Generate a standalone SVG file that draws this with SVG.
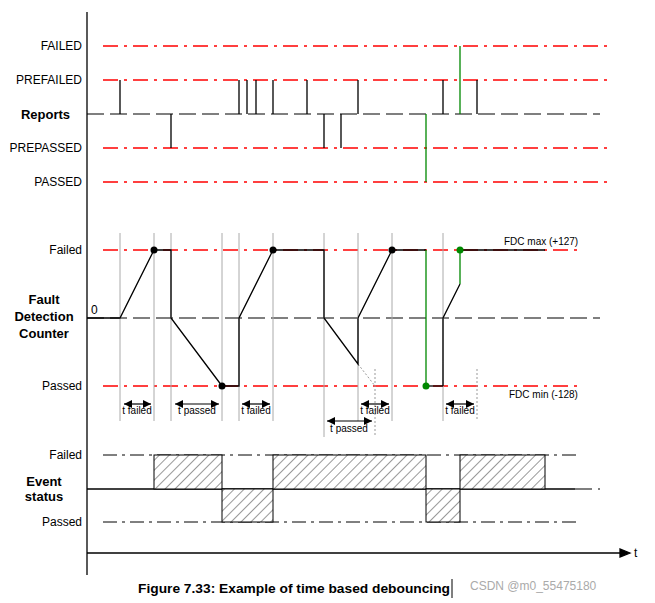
<svg xmlns="http://www.w3.org/2000/svg" width="655" height="603" viewBox="0 0 655 603">
<style>
text{font-family:"Liberation Sans",Arial,sans-serif;font-size:12px;fill:#000}
.b{font-weight:bold;font-size:13px}
.r{text-anchor:end}
.c{text-anchor:middle}
.red{stroke:#f00;stroke-width:1.3;stroke-dasharray:15 6 3 6;fill:none}
.dd{stroke:#000;stroke-width:1;stroke-dasharray:14 5 3 5;fill:none}
.base{stroke:#000;stroke-width:1.2;stroke-dasharray:17 6;fill:none}
.k{stroke:#000;stroke-width:1.3;fill:none}
.g{stroke:#080;stroke-width:1.3;fill:none}
.gr{stroke:#aaa;stroke-width:1;fill:none}
.dot{stroke:#999;stroke-width:1;stroke-dasharray:2 2;fill:none}
.h{fill:url(#hatch);stroke:#000;stroke-width:1}
.ar{stroke:#000;stroke-width:1.2;marker-start:url(#a);marker-end:url(#a)}
.s{font-size:10px}
</style>
<defs>
<pattern id="hatch" width="7" height="7" patternUnits="userSpaceOnUse" patternTransform="rotate(45)">
<rect width="7" height="7" fill="#fff"/><line x1="0" y1="0" x2="0" y2="7" stroke="#000" stroke-width="0.8"/>
</pattern>
<marker id="a" markerWidth="8" markerHeight="8" refX="7" refY="4" orient="auto-start-reverse"><path d="M0,0.5 L7,4 L0,7.5z" fill="#000"/></marker>
</defs>
<rect width="655" height="603" fill="#fff"/>
<g id="axes" class="k">
<line x1="87" y1="12" x2="87" y2="575"/>
<line x1="87" y1="553" x2="622" y2="553"/>
<path d="M630,553 L620,549 L620,557z" fill="#000"/>
</g>
<text x="634" y="557">t</text>
<g id="labels">
<text class="r" x="82" y="50">FAILED</text>
<text class="r" x="82" y="84">PREFAILED</text>
<text class="r b" x="70" y="119">Reports</text>
<text class="r" x="82" y="152">PREPASSED</text>
<text class="r" x="82" y="186">PASSED</text>
<text class="r" x="82" y="254">Failed</text>
<text class="r" x="82" y="390">Passed</text>
<text class="c b" x="44" y="304">Fault</text>
<text class="c b" x="44" y="321">Detection</text>
<text class="c b" x="44" y="338">Counter</text>
<text x="91" y="314">0</text>
<text class="s" x="504" y="245">FDC max (+127)</text>
<text class="s" x="509" y="398">FDC min (-128)</text>
<text class="r" x="82" y="459">Failed</text>
<text class="r" x="82" y="526">Passed</text>
<text class="c b" x="44" y="486">Event</text>
<text class="c b" x="44" y="501">status</text>
<text x="138" y="593" font-weight="bold" font-size="14" textLength="312" lengthAdjust="spacingAndGlyphs">Figure 7.33: Example of time based debouncing</text>
<line x1="452" y1="579" x2="452" y2="598" stroke="#000" stroke-width="1"/>
<text x="470" y="590" font-size="15" style="fill:#aaa">CSDN @m0_55475180</text>
</g>
<g id="reports">
<line class="red" x1="103" y1="46" x2="610" y2="46"/>
<line class="red" x1="103" y1="80" x2="610" y2="80"/>
<line class="red" x1="103" y1="148" x2="610" y2="148"/>
<line class="red" x1="103" y1="182" x2="610" y2="182"/>
<line class="base" x1="87" y1="114" x2="600" y2="114"/>
<path class="k" d="M120,114V80M171,148V114M239,114V80M247,114V80M256,114V80M273,114V80M307,114V80M324,114V148M341,114V148M358,114V80M443,114V80M477,114V80"/>
<path class="g" d="M426,114V182M460,114V46"/>
</g>
<g id="fdc">
<line class="red" x1="103" y1="250" x2="580" y2="250"/>
<line class="red" x1="103" y1="386" x2="580" y2="386"/>
<line class="base" x1="87" y1="318" x2="600" y2="318"/>
<path class="gr" d="M120,233V421M154,233V421M171,233V421M222,233V421M239,233V421M273,233V421M324,233V437M358,233V421M392,233V421M443,233V421"/>
<path class="dot" d="M375,369V437M477,369V421M358,364L375,386"/>
<path class="k" d="M87,318H120L154,250H171V318L222,386H239V318L273,250H324V318L358,364V318L392,250H426M443,386V318L460,284M460,250H545"/>
<path class="k" d="M426,386H443"/>
<path class="g" d="M426,250V386M460,284V250"/>
<g fill="#000"><circle cx="154" cy="250" r="3.5"/><circle cx="222" cy="386" r="3.5"/><circle cx="273" cy="250" r="3.5"/><circle cx="392" cy="250" r="3.5"/></g>
<g fill="#080"><circle cx="426" cy="386" r="3.5"/><circle cx="460" cy="250" r="3.5"/></g>
</g>
<g id="timers">
<line class="ar" x1="124" y1="404" x2="151" y2="404"/>
<line class="ar" x1="175" y1="404" x2="219" y2="404"/>
<line class="ar" x1="242" y1="404" x2="270" y2="404"/>
<line class="ar" x1="361" y1="404" x2="389" y2="404"/>
<line class="ar" x1="446" y1="404" x2="474" y2="404"/>
<line class="ar" x1="327" y1="421" x2="372" y2="421"/>
<text class="c s" x="137" y="414">t failed</text>
<text class="c s" x="197" y="414">t passed</text>
<text class="c s" x="256" y="414">t failed</text>
<text class="c s" x="375" y="414">t failed</text>
<text class="c s" x="460" y="414">t failed</text>
<text class="c s" x="349" y="432">t passed</text>
</g>
<g id="event">
<line class="dd" x1="103" y1="455" x2="580" y2="455"/>
<line class="dd" x1="103" y1="522" x2="580" y2="522"/>
<line class="k" x1="87" y1="489" x2="575" y2="489"/>
<line class="base" x1="575" y1="489" x2="600" y2="489"/>
<rect class="h" x="154" y="455" width="68" height="34"/>
<rect class="h" x="222" y="489" width="51" height="33"/>
<rect class="h" x="273" y="455" width="153" height="34"/>
<rect class="h" x="426" y="489" width="34" height="33"/>
<rect class="h" x="460" y="455" width="85" height="34"/>
</g>
</svg>
